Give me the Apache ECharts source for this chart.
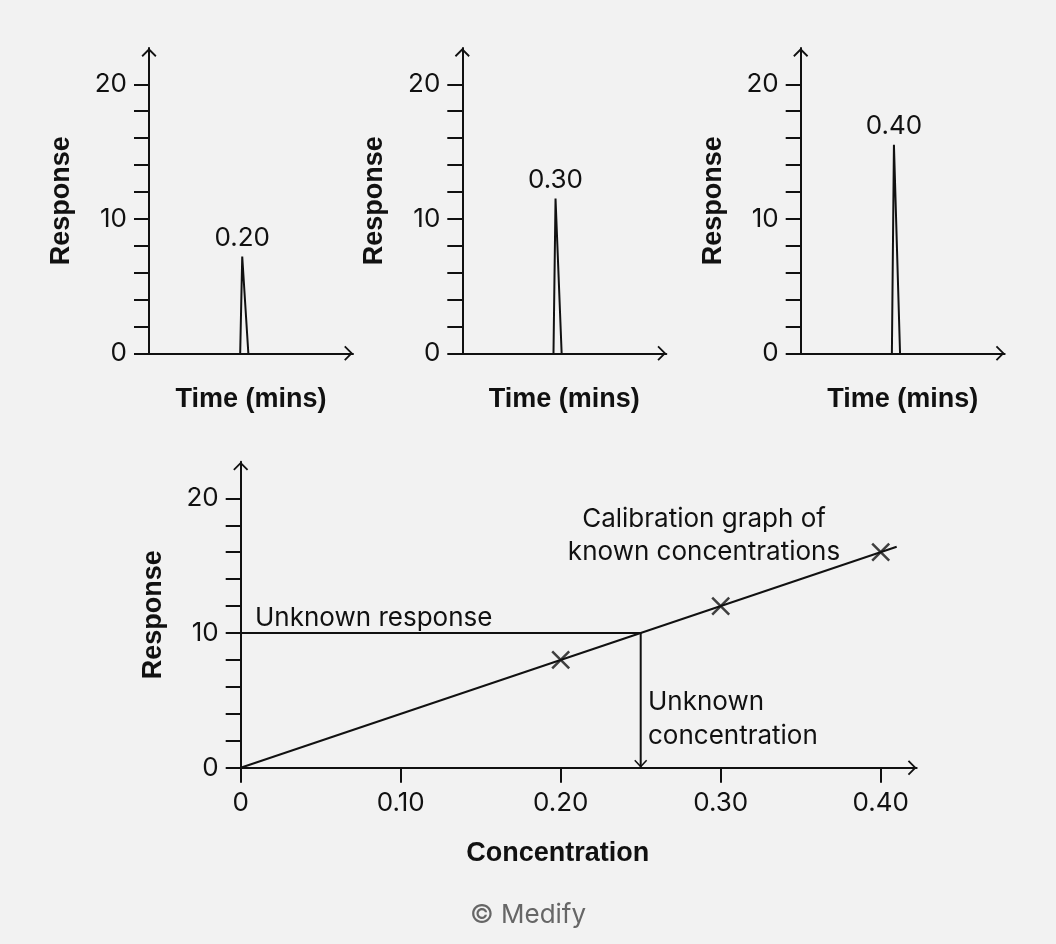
<!DOCTYPE html>
<html>
<head>
<meta charset="utf-8">
<script src="https://cdn.jsdelivr.net/npm/echarts@6/dist/echarts.min.js"></script>
<style>
html,body{margin:0;padding:0;background:#f2f2f2;}
#c{width:1056px;height:944px;}
</style>
</head>
<body>
<div id="c"></div>
<script>
// ---- data ----
const peakConc = ['0.20', '0.30', '0.40'];
const peakHeights = [7.2, 11.5, 15.5];
const peakTimes = [4.47, 4.57, 4.87]; // base start, apex, base end
const respTicks = [0, 2, 4, 6, 8, 10, 12, 14, 16, 18, 20];
const respLabels = [0, 10, 20];
const concTicks = [0, 0.1, 0.2, 0.3, 0.4];
const concLabels = ['0', '0.10', '0.20', '0.30', '0.40'];
const calConc = [0.2, 0.3, 0.4];
const calResp = [8, 12, 16];
const fitConc = [0, 0.41];
const fitResp = [0, 16.4];
const unknownResp = 10;
const unknownConc = 0.25;

// ---- styling ----
const INK = '#111111';
const FONT = 'Inter, "Noto Sans", sans-serif';
const BOLD = '"Liberation Sans", Arial, sans-serif';
const FS = 26;
const BFS = 27;
const UP = 'path://M10,0 L20,10 L18.3,11.7 L10,3.4 L1.7,11.7 L0,10 Z';
const DOWN = 'path://M0,1.7 L1.7,0 L10,8.3 L18.3,0 L20,1.7 L10,11.7 Z';
const CROSS = 'path://M0,0 L10,10 M10,0 L0,10';

const chart = echarts.init(document.getElementById('c'), null, {renderer: 'canvas'});

const axisLineStyle = {
  show: true, onZero: false,
  symbol: ['none', UP], symbolSize: [15, 9], symbolOffset: [0, -4.5],
  lineStyle: {color: INK, width: 2}
};

function yAxisDef(grid, gap) {
  return {
    type: 'value', gridIndex: grid, min: 0, max: 22.7,
    name: 'Response', nameLocation: 'middle', nameGap: gap, nameRotate: 90,
    nameTextStyle: {fontFamily: BOLD, fontWeight: 'bold', fontSize: BFS, color: INK},
    axisLine: axisLineStyle,
    axisTick: {show: true, inside: false, length: 15, customValues: respTicks, lineStyle: {color: INK, width: 2}},
    axisLabel: {show: true, customValues: respLabels, margin: 22, padding: [4, 0, 0, 0], fontFamily: FONT, fontSize: FS, color: INK},
    splitLine: {show: false}
  };
}

const grids = [], xAxes = [], yAxes = [], series = [];
const topLefts = [149, 462.3, 800.7];
topLefts.forEach((l, i) => {
  grids.push({left: l, top: 48, width: 204, height: 305.3});
  xAxes.push({
    type: 'value', gridIndex: i, min: 0, max: 10,
    name: 'Time (mins)', nameLocation: 'middle', nameGap: 33,
    nameTextStyle: {fontFamily: BOLD, fontWeight: 'bold', fontSize: BFS, color: INK, verticalAlign: 'top'},
    axisLine: axisLineStyle,
    axisTick: {show: false}, axisLabel: {show: false}, splitLine: {show: false}
  });
  yAxes.push(yAxisDef(i, 74));
  series.push({
    type: 'line', xAxisIndex: i, yAxisIndex: i, symbol: 'none',
    lineStyle: {color: INK, width: 2},
    data: [
      [peakTimes[0], 0],
      {
        value: [peakTimes[1], peakHeights[i]],
        symbol: 'circle', symbolSize: 1, itemStyle: {color: 'rgba(0,0,0,0)'},
        label: {show: true, position: 'top', distance: 5, formatter: peakConc[i], fontFamily: FONT, fontSize: FS, color: INK}
      },
      [peakTimes[2], 0]
    ]
  });
});

// calibration chart
grids.push({left: 240.7, top: 461.7, width: 676, height: 306});
xAxes.push({
  type: 'value', gridIndex: 3, min: 0, max: 0.4225,
  name: 'Concentration', nameLocation: 'middle', nameGap: 72,
  nameTextStyle: {fontFamily: BOLD, fontWeight: 'bold', fontSize: BFS, color: INK, verticalAlign: 'top', padding: [0, 42, 0, 0]},
  axisLine: axisLineStyle,
  axisTick: {show: true, inside: false, length: 15, customValues: concTicks, lineStyle: {color: INK, width: 2}},
  axisLabel: {
    show: true, customValues: concTicks, margin: 22, fontFamily: FONT, fontSize: FS, color: INK,
    formatter: v => { const k = concTicks.findIndex(t => Math.abs(t - v) < 1e-9); return k >= 0 ? concLabels[k] : ''; }
  },
  splitLine: {show: false}
});
yAxes.push(Object.assign(yAxisDef(3, 74), {max: 22.72}));

series.push({
  type: 'line', xAxisIndex: 3, yAxisIndex: 3, symbol: 'none',
  lineStyle: {color: INK, width: 2},
  data: fitConc.map((c, k) => [c, fitResp[k]])
});
series.push({
  type: 'line', xAxisIndex: 3, yAxisIndex: 3, symbol: 'none',
  lineStyle: {color: INK, width: 2},
  data: [[0, unknownResp], [unknownConc, unknownResp]]
});
series.push({
  type: 'line', xAxisIndex: 3, yAxisIndex: 3, symbol: 'none',
  lineStyle: {color: INK, width: 2},
  data: [
    [unknownConc, unknownResp],
    {value: [unknownConc, 0], symbol: DOWN, symbolSize: [13, 8], symbolOffset: [0, -4], itemStyle: {color: INK}}
  ]
});
series.push({
  type: 'scatter', xAxisIndex: 3, yAxisIndex: 3,
  symbol: CROSS, symbolSize: 17,
  itemStyle: {color: 'rgba(0,0,0,0)', borderColor: INK, borderWidth: 2.5},
  data: calConc.map((c, k) => [c, calResp[k]]),
  z: 5
});

const txt = (x, y, text, align, extra) => ({
  type: 'text', x: x, y: y, silent: true,
  style: Object.assign({text: text, fontFamily: FONT, fontSize: FS, fill: INK, align: align, verticalAlign: 'middle'}, extra || {})
});

chart.setOption({
  backgroundColor: '#f2f2f2',
  animation: false,
  grid: grids, xAxis: xAxes, yAxis: yAxes, series: series,
  graphic: [
    txt(255, 618, 'Unknown response', 'left'),
    txt(704, 519, 'Calibration graph of', 'center'),
    txt(704, 552, 'known concentrations', 'center'),
    txt(648, 702, 'Unknown', 'left'),
    txt(648, 736, 'concentration', 'left'),
    txt(528, 915, '© Medify', 'center', {fill: '#666666'})
  ]
});
</script>
</body>
</html>
